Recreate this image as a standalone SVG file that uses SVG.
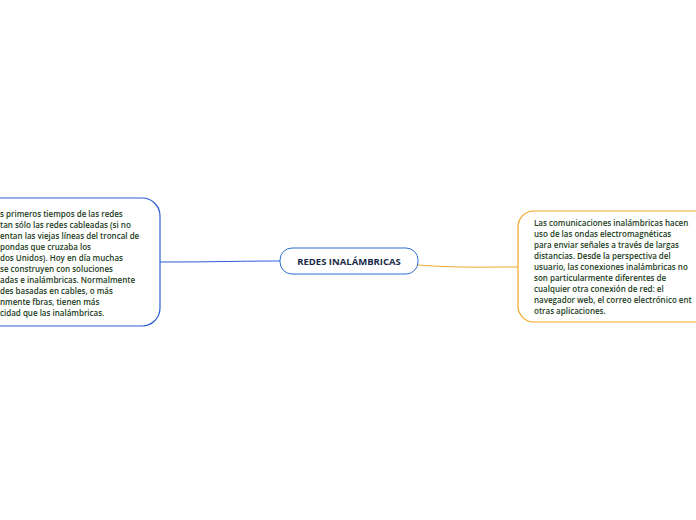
<svg xmlns="http://www.w3.org/2000/svg" width="696" height="520" viewBox="0 0 696 520">
<style>
.t{font-family:"Open Sans","Noto Sans",sans-serif;font-size:8px;font-weight:600;fill:#1c3d1c}
.c{font-family:"Open Sans","Noto Sans",sans-serif;font-size:9.5px;font-weight:700;fill:#1a2a4a}
</style>
<rect width="696" height="520" fill="#fff"/>
<g id="connectors" fill="none">
<path d="M160,262 C220,262 240,261 280,261" stroke="#2a5bd7" stroke-width="1"/>
<path d="M418,265 C460,268 480,267 518,267" stroke="#f5a623" stroke-width="1"/>
</g>
<g id="center">
<rect x="280" y="248" width="138" height="26" rx="12" fill="#fff" stroke="#2a6fd0" stroke-width="1"/>
<text class="c" x="349" y="264.5" text-anchor="middle">REDES INALÁMBRICAS</text>
</g>
<g id="left">
<rect x="-30" y="198" width="190" height="128" rx="18" fill="#fff" stroke="#2a5bd7" stroke-width="1.2"/>
<text class="t">
<tspan x="0" y="217">s primeros tiempos de las redes</tspan>
<tspan x="0" y="228">tan sólo las redes cableadas (si no</tspan>
<tspan x="0" y="239">entan las viejas líneas del troncal de</tspan>
<tspan x="0" y="250">pondas que cruzaba los</tspan>
<tspan x="0" y="261">dos Unidos). Hoy en día muchas</tspan>
<tspan x="0" y="272"> se construyen con soluciones</tspan>
<tspan x="0" y="283">adas e inalámbricas. Normalmente</tspan>
<tspan x="0" y="294">des basadas en cables, o más</tspan>
<tspan x="0" y="305">nmente fbras, tienen más</tspan>
<tspan x="0" y="316">cidad que las inalámbricas.</tspan>
</text>
</g>
<g id="right">
<rect x="518" y="211" width="200" height="111" rx="16" fill="#fff" stroke="#f5a623" stroke-width="1.2"/>
<text class="t">
<tspan x="534" y="226">Las comunicaciones inalámbricas hacen</tspan>
<tspan x="534" y="237">uso de las ondas electromagnéticas</tspan>
<tspan x="534" y="248">para enviar señales a través de largas</tspan>
<tspan x="534" y="259">distancias. Desde la perspectiva del</tspan>
<tspan x="534" y="270">usuario, las conexiones inalámbricas no</tspan>
<tspan x="534" y="281">son particularmente diferentes de</tspan>
<tspan x="534" y="292">cualquier otra conexión de red: el</tspan>
<tspan x="534" y="303">navegador web, el correo electrónico ent</tspan>
<tspan x="534" y="314">otras aplicaciones.</tspan>
</text>
</g>
</svg>
